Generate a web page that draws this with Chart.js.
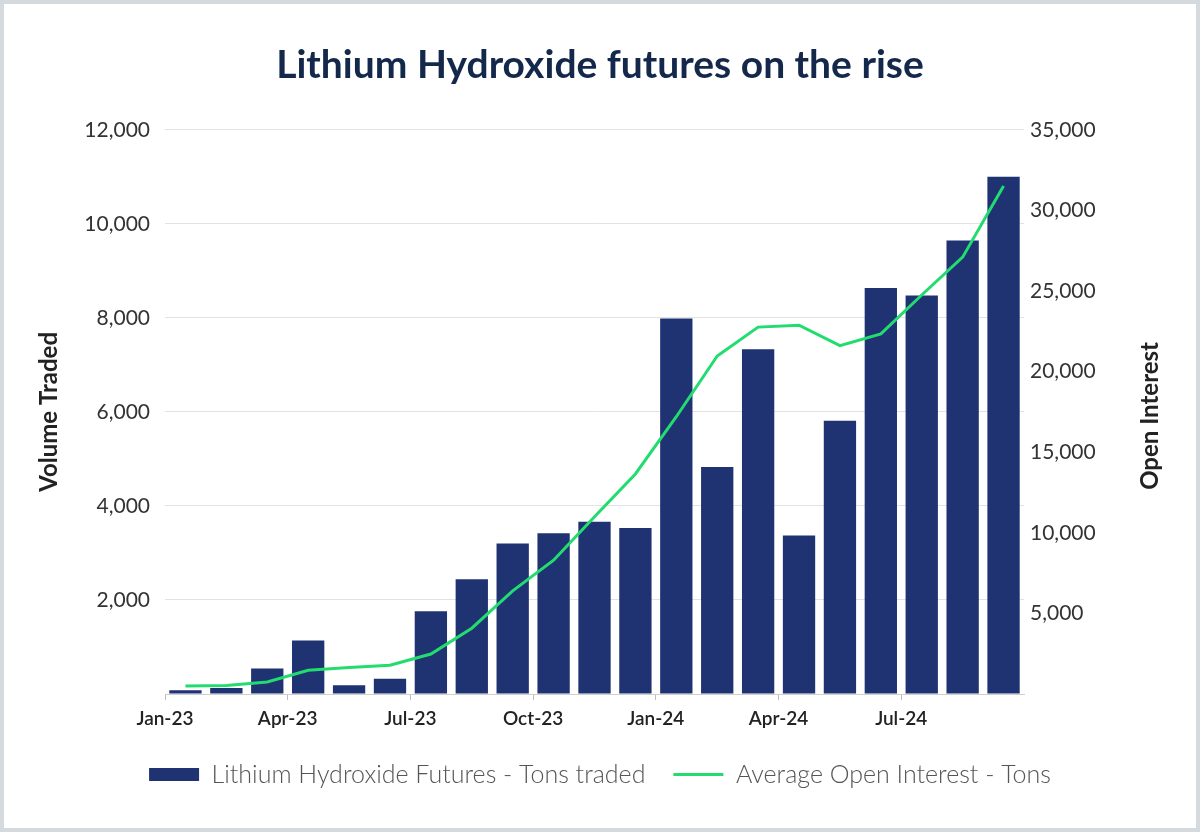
<!DOCTYPE html>
<html>
<head>
<meta charset="utf-8">
<script src="https://cdn.jsdelivr.net/npm/chart.js@4"></script>
<style>
  body { margin: 0; background: #fff; }
  #wrap { position: relative; width: 1200px; height: 832px; }
  #frame { position: absolute; left: 0; top: 0; width: 1200px; height: 832px;
           box-sizing: border-box; border: 4px solid #d4dade; pointer-events: none; }
</style>
</head>
<body>
<div id="wrap">
  <canvas id="chart" width="1200" height="832"></canvas>
  <div id="frame"></div>
</div>
<script>
// months Jan-23 .. Sep-24
const months = ['Jan-23','Feb-23','Mar-23','Apr-23','May-23','Jun-23','Jul-23','Aug-23','Sep-23','Oct-23','Nov-23','Dec-23',
                'Jan-24','Feb-24','Mar-24','Apr-24','May-24','Jun-24','Jul-24','Aug-24','Sep-24'];
// tons traded (left axis)
const tonsTraded = [80, 130, 540, 1140, 185, 325, 1760, 2440, 3200, 3420, 3665, 3530,
                    7985, 4830, 7335, 3370, 5810, 8635, 8475, 9645, 11000];
// average open interest (right axis)
const openInterest = [500, 520, 750, 1470, 1650, 1780, 2480, 4080, 6400, 8300, 11000, 13650,
                      17200, 20970, 22760, 22880, 21610, 22340, 24750, 27100, 31520];

const fontFam = 'Lato, "Open Sans", sans-serif';
const fmt = v => v === 0 ? '' : v.toLocaleString('en-US');

// right axis title reads bottom-to-top like the left one
const rightTitle = {
    id: 'rightTitle',
    afterDraw(chart) {
        const c = chart.ctx;
        const area = chart.chartArea;
        c.save();
        c.translate(1150, (area.top + area.bottom) / 2 + 4);
        c.rotate(-Math.PI / 2);
        c.fillStyle = '#222';
        c.font = 'bold 24px ' + fontFam;
        c.textAlign = 'center';
        c.textBaseline = 'middle';
        c.fillText('Open Interest', 0, 0);
        c.restore();
    }
};

const ctx = document.getElementById('chart').getContext('2d');
new Chart(ctx, {
    type: 'bar',
    data: {
        labels: months,
        datasets: [{
            type: 'bar',
            label: 'Lithium Hydroxide Futures - Tons traded',
            data: tonsTraded,
            backgroundColor: '#1f3272',
            borderWidth: 0,
            categoryPercentage: 1,
            barPercentage: 0.79,
            yAxisID: 'y',
            pointStyle: 'rect',
            order: 1
        }, {
            type: 'line',
            label: 'Average Open Interest - Tons',
            data: openInterest,
            borderColor: '#22dc70',
            backgroundColor: '#22dc70',
            borderWidth: 3,
            pointRadius: 0,
            tension: 0,
            yAxisID: 'y1',
            pointStyle: 'line',
            order: 0
        }]
    },
    plugins: [rightTitle],
    options: {
        responsive: false,
        animation: false,
        layout: { padding: { left: 0, right: 0, top: 0, bottom: 35 } },
        plugins: {
            title: {
                display: true,
                text: 'Lithium Hydroxide futures on the rise',
                color: '#14284b',
                font: { family: fontFam, size: 39, weight: 'bold' },
                padding: { top: 42, bottom: 41 }
            },
            legend: {
                position: 'bottom',
                labels: {
                    usePointStyle: true,
                    pointStyleWidth: 50,
                    boxHeight: 13,
                    padding: 28,
                    color: '#555',
                    font: { family: fontFam, size: 25, weight: 300 },
                    sort: (a, b) => a.datasetIndex - b.datasetIndex
                }
            },
            tooltip: { enabled: false }
        },
        scales: {
            x: {
                grid: {
                    offset: true,
                    drawOnChartArea: false,
                    drawTicks: true,
                    tickLength: 6,
                    color: c => (c.index % 3 === 0 ? '#bdbdbd' : 'rgba(0,0,0,0)')
                },
                border: { display: true, color: '#cfcfcf' },
                ticks: {
                    autoSkip: false,
                    maxRotation: 0,
                    labelOffset: -20.5,
                    padding: 7,
                    color: '#222',
                    font: { family: fontFam, size: 19, weight: 600 },
                    callback: (v, i) => (i % 3 === 0 ? months[i] : '')
                },
                afterFit: s => { s.height = 40; }
            },
            y: {
                position: 'left',
                min: 0,
                max: 12000,
                ticks: {
                    stepSize: 2000,
                    padding: 15,
                    color: '#333',
                    font: { family: fontFam, size: 21 },
                    callback: fmt
                },
                grid: { color: '#e2e2e2', drawTicks: false },
                border: { display: false },
                title: {
                    display: true,
                    text: 'Volume Traded',
                    color: '#222',
                    font: { family: fontFam, size: 24, weight: 'bold' },
                    padding: { top: 35, bottom: 0 }
                },
                afterFit: s => { s.width = 165; }
            },
            y1: {
                position: 'right',
                min: 0,
                max: 35000,
                ticks: {
                    stepSize: 5000,
                    padding: 6,
                    color: '#333',
                    font: { family: fontFam, size: 21 },
                    callback: fmt
                },
                grid: { drawOnChartArea: false, drawTicks: false },
                border: { display: false },
                afterFit: s => { s.width = 176; }
            }
        }
    }
});
</script>
</body>
</html>
